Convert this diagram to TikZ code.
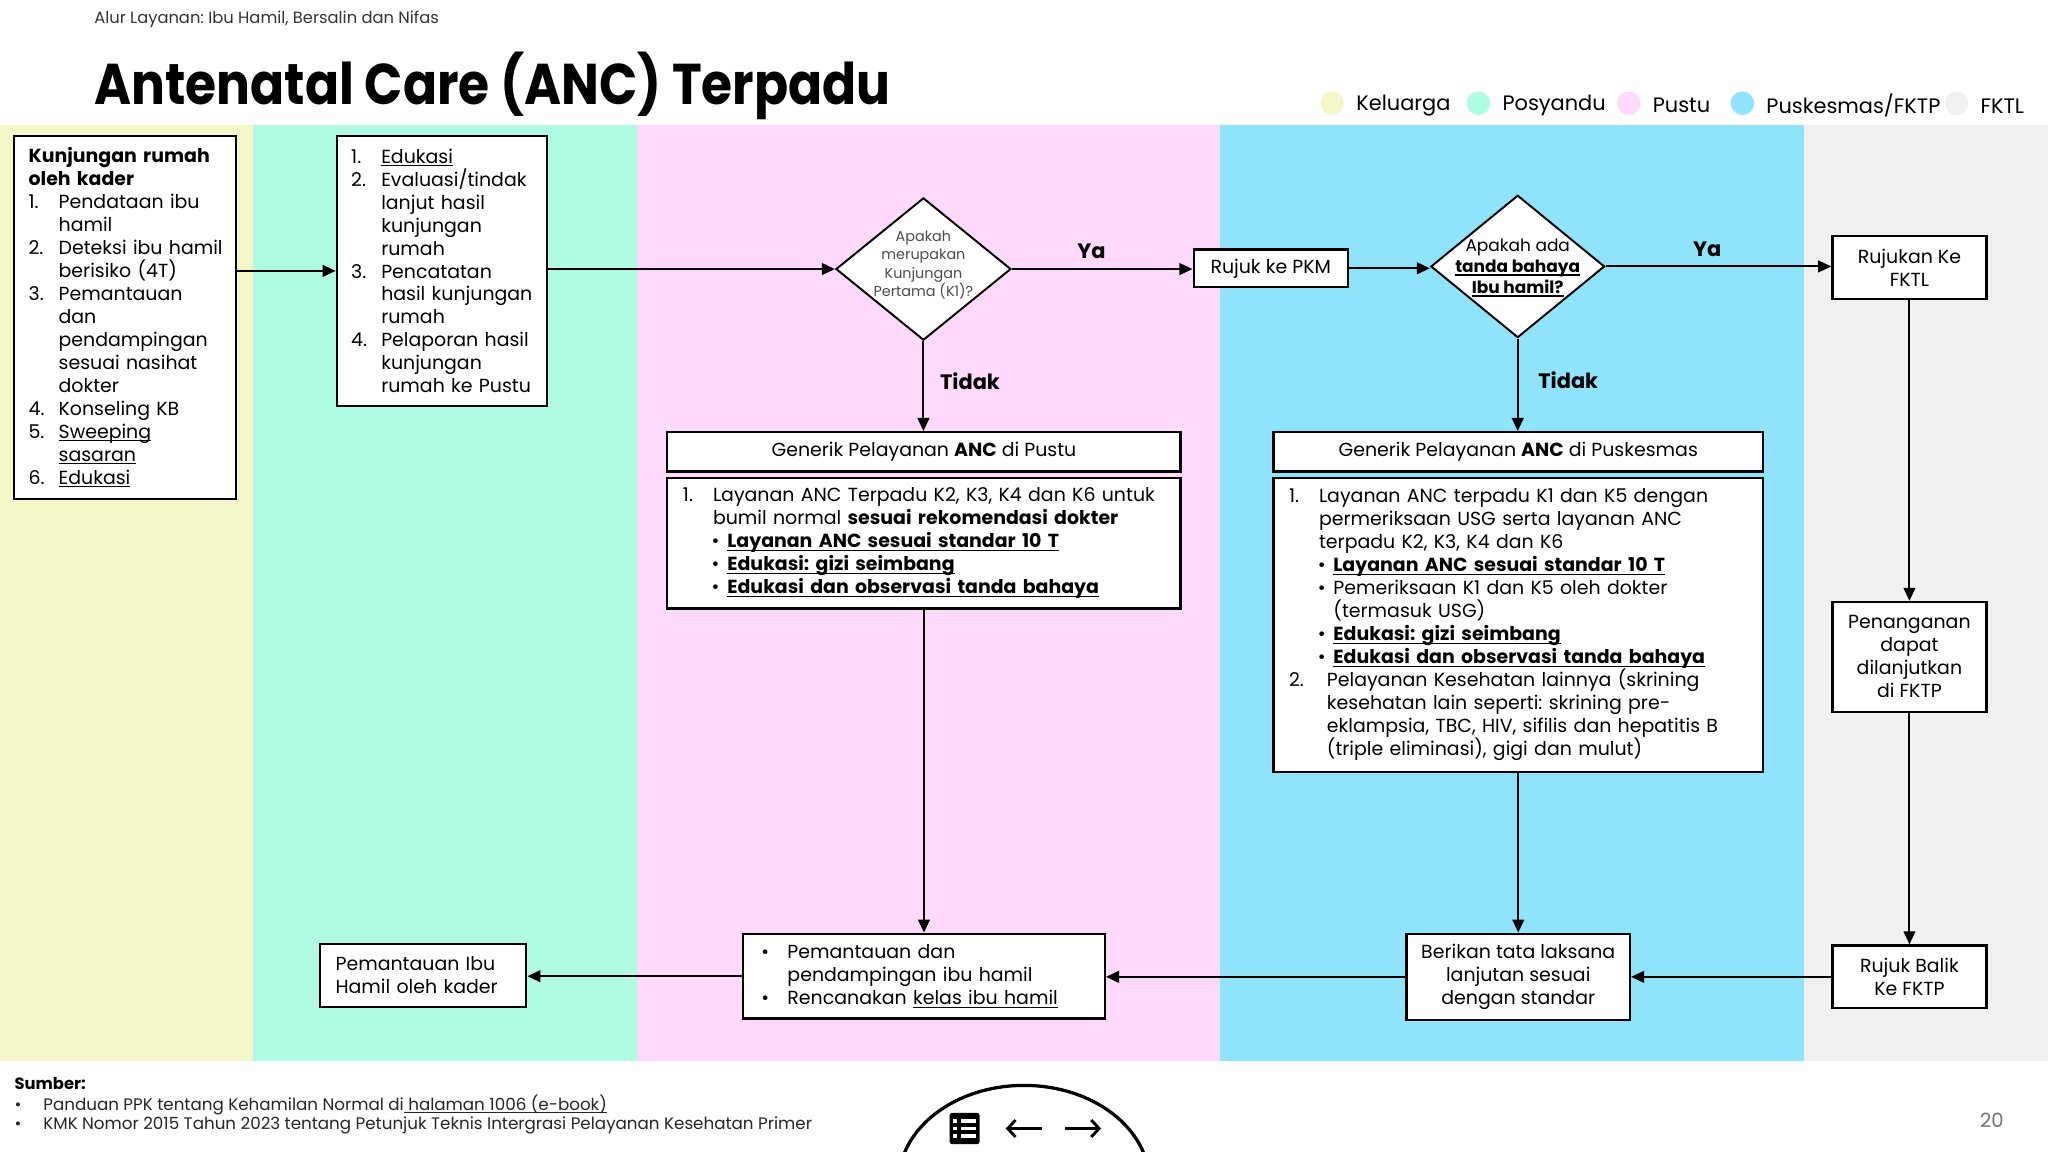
\documentclass[tikz,border=0pt]{standalone}
\usepackage{fontspec}
\setmainfont{Poppins}
\usetikzlibrary{arrows.meta,positioning,shapes.geometric}

\definecolor{keluarga}{HTML}{F5F6C8}
\definecolor{posyandu}{HTML}{B0FBE4}
\definecolor{pustu}{HTML}{FED9FC}
\definecolor{puskesmas}{HTML}{8FE3FA}
\definecolor{fktl}{HTML}{F0F0F0}

\frenchspacing
\newcommand{\garis}[1]{\setbox0\hbox{#1}\rlap{\rule[-2.5pt]{\wd0}{1pt}}\box0}
\newcommand{\li}[2]{\mbox{\makebox[23pt][l]{#1}#2}}
\newcommand{\lc}[1]{\mbox{\hspace*{23pt}#1}}
\newcommand{\lb}[1]{\mbox{\hspace*{22pt}\makebox[12pt][l]{\textbullet}#1}}
\newcommand{\lbc}[1]{\mbox{\hspace*{34pt}#1}}

\begin{document}
\begin{tikzpicture}[x=1pt,y=-1pt,
    box/.style={draw, line width=1.8pt, fill=white, inner sep=0pt, anchor=north west},
    lbox/.style={box, align=left},
    cbox/.style={box, align=center},
    dec/.style={draw, diamond, line width=1.5pt, fill=white, inner sep=0pt},
    arr/.style={line width=1.5pt, -{Triangle[length=10pt,width=9pt]}},
    yn/.style={font=\fontsize{16}{18}\selectfont\bfseries, inner sep=0pt},
    body/.style={font=\fontsize{14.5}{17.6}\selectfont},
    dot/.style={circle, minimum size=18pt, inner sep=0pt},
    leg/.style={font=\fontsize{16}{18}\selectfont, inner sep=0pt, yshift=-2pt}]
    \useasboundingbox (0,0) rectangle (1568,882);
    \fill[white] (0,0) rectangle (1568,882);
    % lajur
    \fill[keluarga] (0,96) rectangle (194,812);
    \fill[posyandu] (194,96) rectangle (488,812);
    \fill[pustu] (488,96) rectangle (934,812);
    \fill[puskesmas] (934,96) rectangle (1381,812);
    \fill[fktl] (1381,96) rectangle (1568,812);
    % judul
    \node[anchor=base west, font=\fontsize{12.5}{15}\selectfont, text=black!80, inner sep=0pt] (hd) at (72,18) {Alur Layanan: Ibu Hamil, Bersalin dan Nifas};
    \node[anchor=base west, font=\fontsize{44}{50}\selectfont\bfseries, inner sep=0pt] (ttl) at (72,80) {\scalebox{0.875}[1]{Antenatal Care (ANC) Terpadu}};
    % legenda
    \node[dot, fill=keluarga] (dk) at (1020,79) {};
    \node[leg, right=9pt of dk] (tk) {Keluarga};
    \node[dot, fill=posyandu] (dp) at (1132,79) {};
    \node[leg, right=9pt of dp] (tp) {Posyandu};
    \node[dot, fill=pustu] (du) at (1247,79) {};
    \node[leg, right=9pt of du] (tu) {Pustu};
    \node[dot, fill=puskesmas] (ds) at (1334,79) {};
    \node[leg, right=9pt of ds] (ts) {Puskesmas/FKTP};
    \node[dot, fill=fktl] (df) at (1498,79) {};
    \node[leg, right=9pt of df] (tf) {FKTL};
    % kotak
    \node[lbox, body, minimum width=170pt, minimum height=278pt, text width=148pt, inner xsep=11pt] (kader) at (10,103) {\textbf{Kunjungan rumah}\\\textbf{oleh kader}\\\li{1.}{Pendataan ibu}\\\lc{hamil}\\\li{2.}{Deteksi ibu hamil}\\\lc{berisiko (4T)}\\\li{3.}{Pemantauan}\\\lc{dan}\\\lc{pendampingan}\\\lc{sesuai nasihat}\\\lc{dokter}\\\li{4.}{Konseling KB}\\\li{5.}{\garis{Sweeping}}\\\lc{\garis{sasaran}}\\\li{6.}{\garis{Edukasi}}};
    \node[lbox, body, minimum width=161pt, minimum height=207pt, text width=139pt, inner xsep=11pt] (posy) at (257,103) {\li{1.}{\garis{Edukasi}}\\\li{2.}{Evaluasi/tindak}\\\lc{lanjut hasil}\\\lc{kunjungan}\\\lc{rumah}\\\li{3.}{Pencatatan}\\\lc{hasil kunjungan}\\\lc{rumah}\\\li{4.}{Pelaporan hasil}\\\lc{kunjungan}\\\lc{rumah ke Pustu}};
    \node[dec, minimum width=134pt, minimum height=109pt] (q1) at (707,206) {};
    \node[font=\fontsize{11}{14}\selectfont, text=black!70, align=center, inner sep=0pt] (q1t) at (707,203) {Apakah\\merupakan\\Kunjungan\\Pertama (K1)?};
    \node[cbox, body, minimum width=118pt, minimum height=29pt] (rpkm) at (913,190) {Rujuk ke PKM};
    \node[dec, minimum width=133pt, minimum height=109pt] (q2) at (1162,204) {};
    \node[font=\fontsize{13}{16}\selectfont, align=center, inner sep=0pt] (q2t) at (1162,205) {Apakah ada\\\textbf{\garis{tanda bahaya}}\\\textbf{\garis{Ibu hamil?}}};
    \node[cbox, body, minimum width=118pt, minimum height=48pt] (rfktl) at (1402,180) {Rujukan Ke\\FKTL};
    \node[cbox, body, minimum width=118pt, minimum height=84pt] (pen) at (1402,460) {Penanganan\\dapat\\dilanjutkan\\di FKTP};
    \node[cbox, body, minimum width=118pt, minimum height=48pt] (rb) at (1402,723) {Rujuk Balik\\Ke FKTP};
    \node[cbox, body, minimum width=393pt, minimum height=30pt] (gp) at (510,330) {Generik Pelayanan \textbf{ANC} di Pustu};
    \node[lbox, body, minimum width=393pt, minimum height=100pt, text width=369pt, inner xsep=12pt] (gpl) at (510,365) {\li{1.}{Layanan ANC Terpadu K2, K3, K4 dan K6 untuk}\\\lc{bumil normal \textbf{sesuai rekomendasi dokter}}\\\lb{\textbf{\garis{Layanan ANC sesuai standar 10 T}}}\\\lb{\textbf{\garis{Edukasi: gizi seimbang}}}\\\lb{\textbf{\garis{Edukasi dan observasi tanda bahaya}}}};
    \node[cbox, body, minimum width=375pt, minimum height=30pt] (gk) at (974,330) {Generik Pelayanan \textbf{ANC} di Puskesmas};
    \node[lbox, body, minimum width=375pt, minimum height=225pt, text width=351pt, inner xsep=12pt] (gkl) at (974,365) {\li{1.}{Layanan ANC terpadu K1 dan K5 dengan}\\\lc{permeriksaan USG serta layanan ANC}\\\lc{terpadu K2, K3, K4 dan K6}\\\lb{\textbf{\garis{Layanan ANC sesuai standar 10 T}}}\\\lb{Pemeriksaan K1 dan K5 oleh dokter}\\\lbc{(termasuk USG)}\\\lb{\textbf{\garis{Edukasi: gizi seimbang}}}\\\lb{\textbf{\garis{Edukasi dan observasi tanda bahaya}}}\\\mbox{\makebox[29pt][l]{2.}Pelayanan Kesehatan lainnya (skrining}\\\mbox{\hspace*{29pt}kesehatan lain seperti: skrining pre-}\\\mbox{\hspace*{29pt}eklampsia, TBC, HIV, sifilis dan hepatitis B}\\\mbox{\hspace*{29pt}(triple eliminasi), gigi dan mulut)}};
    \node[lbox, body, minimum width=277pt, minimum height=65pt, text width=249pt, inner xsep=14pt] (pm) at (568,714) {\mbox{\makebox[20pt][l]{\textbullet}Pemantauan dan}\\\mbox{\hspace*{20pt}pendampingan ibu hamil}\\\mbox{\makebox[20pt][l]{\textbullet}Rencanakan \garis{kelas ibu hamil}}};
    \node[cbox, body, minimum width=171pt, minimum height=66pt] (bt) at (1076,714) {Berikan tata laksana\\lanjutan sesuai\\dengan standar};
    \node[lbox, body, minimum width=158pt, minimum height=48pt, text width=134pt, inner xsep=12pt] (pk) at (244,722) {Pemantauan Ibu\\Hamil oleh kader};
    % panah
    \draw[arr] (posy.west -| kader.east) -- (posy.west);
    \draw[arr] (q1.west -| posy.east) -- (q1.west);
    \draw[arr] (q1.east) -- (q1.east -| rpkm.west) node[yn, pos=.44, above=7pt] (ya1) {Ya};
    \draw[arr] (rpkm.east) -- (rpkm.east -| q2.west);
    \draw[arr] (q2.east) -- (q2.east -| rfktl.west) node[yn, pos=.45, above=7pt] (ya2) {Ya};
    \draw[arr] (q1.south) -- (q1.south |- gp.north) node[yn, pos=.45, right=12pt] (td1) {Tidak};
    \draw[arr] (q2.south) -- (q2.south |- gk.north) node[yn, pos=.45, right=15pt] (td2) {Tidak};
    \draw[arr] (gpl.south) -- (gpl.south |- pm.north);
    \draw[arr] (gkl.south) -- (gkl.south |- bt.north);
    \draw[arr] (rfktl.south) -- (pen.north);
    \draw[arr] (pen.south) -- (rb.north);
    \draw[arr] (rb.west) -- (rb.west -| bt.east);
    \draw[arr] (bt.west) -- (bt.west -| pm.east);
    \draw[arr] (pm.west) -- (pm.west -| pk.east);
    % sumber
    \node[anchor=base west, font=\fontsize{12.5}{15}\selectfont\bfseries, inner sep=0pt] (src) at (11,834) {Sumber:};
    \node[anchor=base west, font=\fontsize{12.8}{15}\selectfont, text=black!85, inner sep=0pt] (src1) at (11,850) {\makebox[22pt][l]{\textbullet}Panduan PPK tentang Kehamilan Normal di\garis{~halaman 1006 (e-book)}};
    \node[anchor=base west, font=\fontsize{12.8}{15}\selectfont, text=black!85, inner sep=0pt] (src2) at (11,865) {\makebox[22pt][l]{\textbullet}KMK Nomor 2015 Tahun 2023 tentang Petunjuk Teknis Intergrasi Pelayanan Kesehatan Primer};
    \node[font=\fontsize{15}{18}\selectfont, text=black!55] (pg) at (1525,858) {20};
    % navigasi
    \begin{scope}
        \clip (0,0) rectangle (1568,882);
        \draw[line width=2.5pt, fill=white] (784,905) ellipse [x radius=96, y radius=74];
    \end{scope}
    \fill[rounded corners=2pt] (727,852) rectangle (750,876);
    \foreach \yy in {858,864,870} {
        \fill[white] (730,\yy-1.5) rectangle (733,\yy+1.5);
        \fill[white] (736,\yy-1.5) rectangle (747,\yy+1.5);
    }
    \draw[line width=2.2pt, -{Straight Barb[length=6pt,width=13pt]}] (798,864) -- (770,864);
    \draw[line width=2.2pt, -{Straight Barb[length=6pt,width=13pt]}] (815,864) -- (843,864);
\end{tikzpicture}
\end{document}
